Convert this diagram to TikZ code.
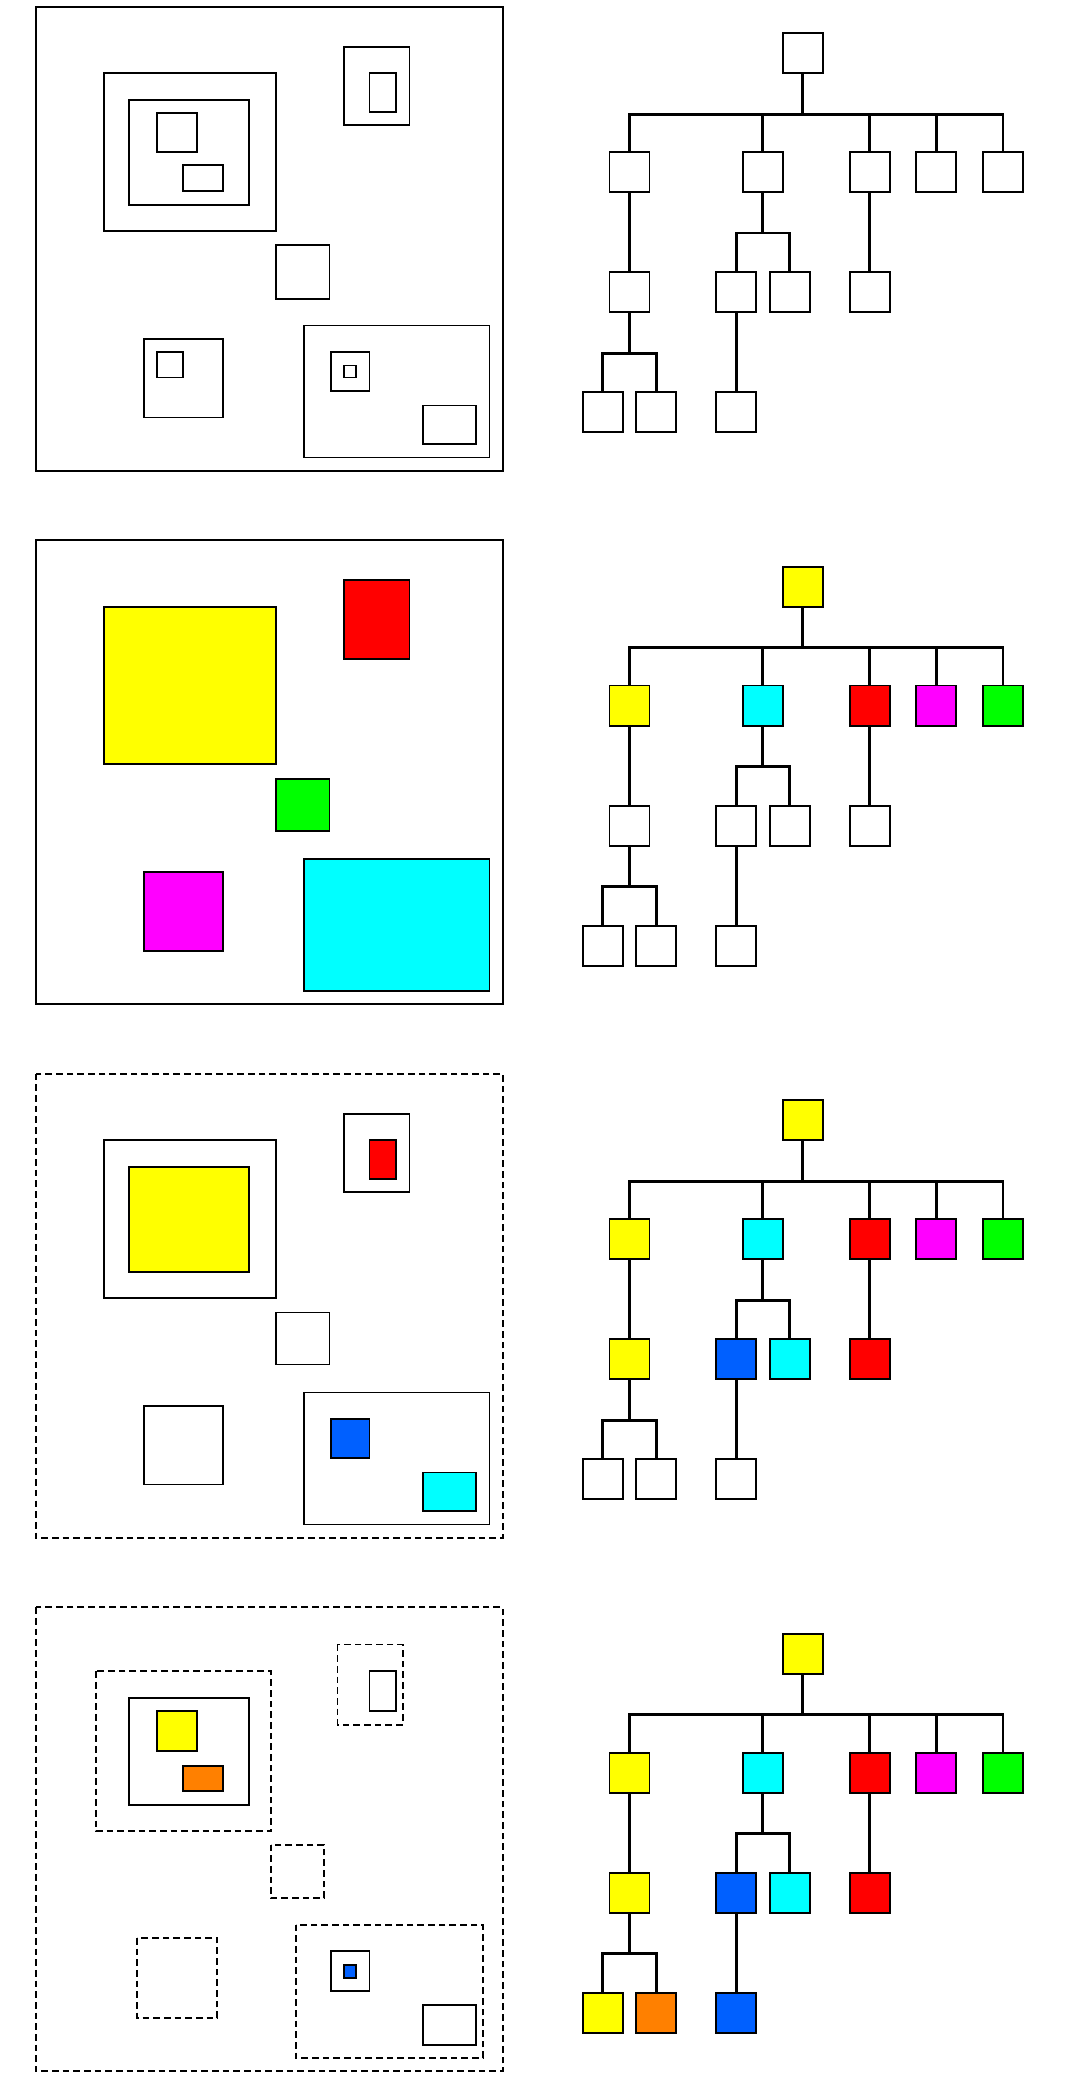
\documentclass[tikz,border=0pt]{standalone}
\usetikzlibrary{calc}
\definecolor{cyel}{HTML}{FFFF00}
\definecolor{ccya}{HTML}{00FFFF}
\definecolor{cred}{HTML}{FF0000}
\definecolor{cmag}{HTML}{FF00FF}
\definecolor{cgre}{HTML}{00FF00}
\definecolor{cblu}{HTML}{0060FF}
\definecolor{cora}{HTML}{FF8000}
\tikzset{every picture/.style={line width=1.4pt},
  box/.style={draw,line width=1.4pt},
  dbox/.style={draw,dash pattern={on 5pt off 3pt},line width=1.4pt},
  tnode/.style={draw,line width=1.4pt,minimum size=30pt,inner sep=0pt},
  tline/.style={line width=2.2pt}}

% tree: prefix, y offset, colour list r/a/b/c/d/e/f/g/h/i/j/k/l
\newcommand\drawtree[3]{%
  \foreach \n/\x/\y [count=\k] in {r/602/40,a/472/129,b/572/129,c/652/129,d/702/129,e/752/129,
      f/472/219,g/552/219,h/592/219,i/652/219,j/452/309,k/492/309,l/552/309}{
    \pgfmathsetmacro\col{{#3}[\k-1]}
    \node[tnode,fill=\col] (#1\n) at (\x,\y+#2) {};
  }
  \draw[tline] (#1r.south) -- ++(0,30) coordinate (#1bar);
  \draw[tline] (#1a.north) |- (#1bar) -| (#1e.north);
  \foreach \n in {b,c,d}{\draw[tline] (#1\n.north) -- (#1\n.north|-#1bar);}
  \draw[tline] (#1a.south) -- (#1f.north);
  \draw[tline] (#1c.south) -- (#1i.north);
  \draw[tline] (#1b.south) -- ++(0,30) coordinate (#1bb);
  \draw[tline] (#1g.north) |- (#1bb) -| (#1h.north);
  \draw[tline] (#1f.south) -- ++(0,30) coordinate (#1fb);
  \draw[tline] (#1j.north) |- (#1fb) -| (#1k.north);
  \draw[tline] (#1g.south) -- (#1l.north);
}

\begin{document}
\begin{tikzpicture}[x=1pt,y=-1pt]
\useasboundingbox[fill=white] (0,0) rectangle (802,1561);

% panel 1
\draw[box] (27,5) rectangle (377,353);
\draw[box] (78,55) rectangle (207,173);
\draw[box] (97,75) rectangle (187,154);
\draw[box] (118,85) rectangle (148,114);
\draw[box] (137,124) rectangle (167,143);
\draw[box] (258,35) rectangle (307,94);
\draw[box] (277,55) rectangle (297,84);
\draw[box] (207,184) rectangle (247,224);
\draw[box] (108,254) rectangle (167,313);
\draw[box] (118,264) rectangle (137,283);
\draw[box] (228,244) rectangle (367,343);
\draw[box] (248,264) rectangle (277,293);
\draw[box] (258,274) rectangle (267,283);
\draw[box] (317,304) rectangle (357,333);
\drawtree{p1}{0}{"white","white","white","white","white","white","white","white","white","white","white","white","white"}

% panel 2
\draw[box] (27,405) rectangle (377,753);
\draw[box,fill=cyel] (78,455) rectangle (207,573);
\draw[box,fill=cred] (258,435) rectangle (307,494);
\draw[box,fill=cgre] (207,584) rectangle (247,623);
\draw[box,fill=cmag] (108,654) rectangle (167,713);
\draw[box,fill=ccya] (228,644) rectangle (367,743);
\drawtree{p2}{400}{"cyel","cyel","ccya","cred","cmag","cgre","white","white","white","white","white","white","white"}

% panel 3
\draw[dbox] (27,805) rectangle (377,1153);
\draw[box] (78,855) rectangle (207,973);
\draw[box,fill=cyel] (97,875) rectangle (187,954);
\draw[box] (258,835) rectangle (307,894);
\draw[box,fill=cred] (277,855) rectangle (297,884);
\draw[box] (207,984) rectangle (247,1023);
\draw[box] (108,1054) rectangle (167,1113);
\draw[box] (228,1044) rectangle (367,1143);
\draw[box,fill=cblu] (248,1064) rectangle (277,1093);
\draw[box,fill=ccya] (317,1104) rectangle (357,1133);
\drawtree{p3}{800}{"cyel","cyel","ccya","cred","cmag","cgre","cyel","cblu","ccya","cred","white","white","white"}

% panel 4
\draw[dbox] (27,1205) rectangle (377,1553);
\draw[dbox] (72,1253) rectangle (203,1373);
\draw[box] (97,1273) rectangle (187,1353);
\draw[box,fill=cyel] (118,1283) rectangle (148,1313);
\draw[box,fill=cora] (137,1324) rectangle (167,1343);
\draw[dbox] (253,1233) rectangle (302,1293);
\draw[box] (277,1253) rectangle (297,1283);
\draw[dbox] (203,1383) rectangle (243,1423);
\draw[dbox] (103,1453) rectangle (163,1513);
\draw[dbox] (222,1443) rectangle (362,1543);
\draw[box] (248,1463) rectangle (277,1493);
\draw[box,fill=cblu] (258,1473) rectangle (267,1483);
\draw[box] (317,1503) rectangle (357,1533);
\drawtree{p4}{1200}{"cyel","cyel","ccya","cred","cmag","cgre","cyel","cblu","ccya","cred","cyel","cora","cblu"}
\end{tikzpicture}
\end{document}
